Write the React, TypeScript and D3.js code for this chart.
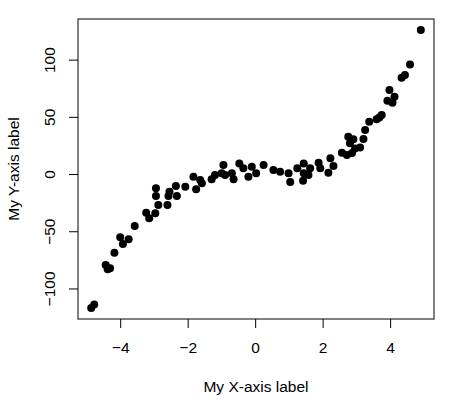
import { useEffect, useRef } from 'react';
import * as d3 from 'd3';

// scatter data
const xValues = [
  -4.86, -4.77, -4.43, -4.37, -4.30, -4.17, -4.00, -3.92, -3.75, -3.57,
  -3.23, -3.14, -2.96, -2.87, -2.94, -2.94, -2.60, -2.54, -2.57, -2.35,
  -2.32, -2.07, -1.83, -1.75, -1.63, -1.58, -1.29, -1.19, -0.99, -0.94,
  -0.89, -0.69, -0.64, -0.47, -0.35, -0.20, -0.10, 0.03, 0.25, 0.54,
  0.74, 0.99, 1.04, 1.25, 1.44, 1.44, 1.42, 1.58, 1.63, 1.88,
  1.93, 2.17, 2.23, 2.32, 2.57, 2.72, 2.76, 2.91, 2.81, 3.11,
  2.96, 3.21, 3.26, 3.38, 3.60, 3.68, 3.75, 3.92, 4.07, 3.98,
  4.13, 4.34, 4.44, 4.59, 4.91, 2.87,
];
const yValues = [
  -117, -114, -79.5, -83.2, -82.4, -68.7, -55.3, -61.1, -57, -45.4,
  -33.8, -38.7, -34.3, -27, -12.5, -19.2, -27, -15.5, -19.2, -10.5,
  -19.2, -11.1, -2.4, -13.4, -5.2, -8.1, -4.6, -0.9, 0.6, 7.9,
  -0.9, 0.6, -4.6, 9.3, 5.0, -2.4, 6.4, 0.6, 7.9, 3.5,
  2.0, 0.6, -7.0, 5.0, 9.3, 0.6, -5.9, -0.9, 5.0, 9.9,
  5.0, 1.1, 13.7, 7.0, 18.6, 16.6, 32.6, 30.3, 26.8, 23.3,
  22.4, 30.6, 38.4, 45.7, 47.8, 49.5, 51.5, 64.0, 62.3, 73.4,
  67.5, 84.1, 86.5, 95.8, 125.8, 18.3,
];
const xTicks = [-4, -2, 0, 2, 4];
const yTicks = [-100, -50, 0, 50, 100];
const xLabel = 'My X-axis label';
const yLabel = 'My Y-axis label';

export default function App() {
  const svgRef = useRef<SVGSVGElement>(null);

  useEffect(() => {
    if (!svgRef.current) return;
    const svg = d3.select(svgRef.current);
    svg.selectAll('*').remove();

    const width = 474;
    const height = 416;
    const margin = { top: 19, right: 40, bottom: 97, left: 78 };
    const font = '"Liberation Sans", Arial, sans-serif';

    // R style: 4% padding around the data range
    const xr = d3.extent(xValues) as [number, number];
    const yr = d3.extent(yValues) as [number, number];
    const xp = (xr[1] - xr[0]) * 0.04;
    const yp = (yr[1] - yr[0]) * 0.04;

    const x = d3
      .scaleLinear()
      .domain([xr[0] - xp, xr[1] + xp])
      .range([margin.left, width - margin.right]);
    const y = d3
      .scaleLinear()
      .domain([yr[0] - yp, yr[1] + yp])
      .range([height - margin.bottom, margin.top]);

    svg.append('rect').attr('width', width).attr('height', height).attr('fill', '#fff');

    // box
    svg
      .append('rect')
      .attr('x', margin.left)
      .attr('y', margin.top)
      .attr('width', width - margin.left - margin.right)
      .attr('height', height - margin.top - margin.bottom)
      .attr('fill', 'none')
      .attr('stroke', '#000')
      .attr('stroke-width', 1);

    // x axis
    const xAxis = svg
      .append('g')
      .attr('transform', `translate(0,${height - margin.bottom})`)
      .call(d3.axisBottom(x).tickValues(xTicks).tickSize(9).tickPadding(14).tickFormat(d3.format('d')));
    xAxis.select('.domain').remove();

    // y axis
    const yAxis = svg
      .append('g')
      .attr('transform', `translate(${margin.left},0)`)
      .call(d3.axisLeft(y).tickValues(yTicks).tickSize(9).tickFormat(d3.format('d')));
    yAxis.select('.domain').remove();
    yAxis
      .selectAll('.tick text')
      .attr('x', 0)
      .attr('dy', 0)
      .attr('text-anchor', 'middle')
      .attr('transform', 'translate(-27,0) rotate(-90)')
      .attr('dominant-baseline', 'middle');

    svg
      .selectAll('.tick line')
      .attr('stroke', '#000');
    svg
      .selectAll('.tick text')
      .style('font-family', font)
      .style('font-size', '15.5px')
      .attr('fill', '#000');

    svg
      .append('text')
      .attr('x', (margin.left + width - margin.right) / 2)
      .attr('y', 392)
      .attr('text-anchor', 'middle')
      .style('font-family', font)
      .style('font-size', '15.5px')
      .text(xLabel);

    svg
      .append('text')
      .attr('transform', `translate(19,${(margin.top + height - margin.bottom) / 2}) rotate(-90)`)
      .attr('text-anchor', 'middle')
      .style('font-family', font)
      .style('font-size', '15.5px')
      .text(yLabel);

    // points
    svg
      .append('g')
      .selectAll('circle')
      .data(xValues.map((v, i) => [v, yValues[i]]))
      .enter()
      .append('circle')
      .attr('cx', (d) => x(d[0]))
      .attr('cy', (d) => y(d[1]))
      .attr('r', 4)
      .attr('fill', '#000');
  }, []);

  return (
    <svg
      ref={svgRef}
      width={474}
      height={416}
      style={{ position: 'absolute', left: 0, top: 0 }}
    ></svg>
  );
}
